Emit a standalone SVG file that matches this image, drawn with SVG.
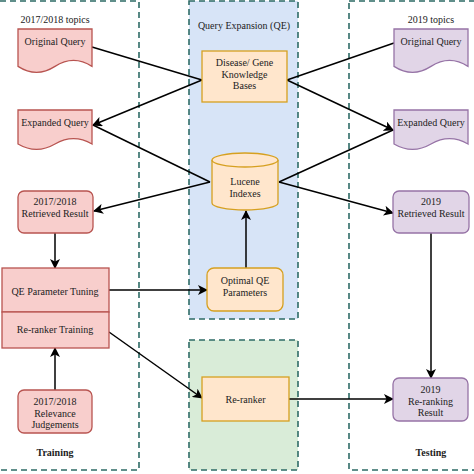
<svg xmlns="http://www.w3.org/2000/svg" width="474" height="474" viewBox="0 0 474 474" font-family="'Liberation Serif', 'Times New Roman', serif">
<defs>
<marker id="arr" markerWidth="10" markerHeight="10" refX="9" refY="5" orient="auto" markerUnits="userSpaceOnUse">
<path d="M0,0 L10,5 L0,10 L2.5,5 Z" fill="#000"/>
</marker>
</defs>
<style>
text{font-family:'Liberation Serif','Times New Roman',serif;font-size:10px;fill:#222;text-anchor:middle}
.b{font-weight:bold}
.cont{stroke:#2e6b66;stroke-width:1.6;stroke-dasharray:6 4}
.pink{fill:#f8cecc;stroke:#b85450;stroke-width:1.3}
.purp{fill:#e1d5e7;stroke:#9673a6;stroke-width:1.3}
.org{fill:#ffe6cc;stroke:#d6a020;stroke-width:1.3}
.c{fill:none;stroke:#000;stroke-width:1.5}
.a{marker-end:url(#arr)}
</style>
<rect width="474" height="474" fill="#fff"/>
<g id="containers">
<rect id="training" class="cont" x="-10" y="1" width="149" height="469" fill="#fff"/>
<rect id="testing" class="cont" x="349" y="1" width="135" height="469" fill="#fff"/>
<rect id="qe" class="cont" x="189" y="1" width="109" height="318" fill="#d7e4f7"/>
<rect id="reranker-group" class="cont" x="189" y="340" width="109" height="130" fill="#d9ecd8"/>
</g>
<text x="55" y="23">2017/2018 topics</text>
<text x="431" y="23">2019 topics</text>
<text x="244" y="29">Query Expansion (QE)</text>
<text class="b" x="55" y="456">Training</text>
<text class="b" x="431" y="456">Testing</text>
<g id="connectors">
<line class="c" x1="92" y1="47" x2="202" y2="80"/>
<line class="c a" x1="202" y1="80" x2="93" y2="125"/>
<line class="c" x1="93" y1="125" x2="210" y2="182"/>
<line class="c a" x1="210" y1="182" x2="94" y2="211"/>
<line class="c" x1="394" y1="43" x2="287" y2="80"/>
<line class="c a" x1="287" y1="80" x2="393" y2="130"/>
<line class="c" x1="393" y1="130" x2="279" y2="182"/>
<line class="c a" x1="279" y1="182" x2="393" y2="213"/>
<line class="c a" x1="55" y1="233" x2="55" y2="268"/>
<line class="c a" x1="55" y1="390" x2="55" y2="348"/>
<line class="c a" x1="109" y1="290" x2="207" y2="290"/>
<line class="c a" x1="109" y1="332" x2="202" y2="398"/>
<line class="c a" x1="246" y1="268" x2="246" y2="211"/>
<line class="c a" x1="289" y1="399" x2="393" y2="399"/>
<line class="c a" x1="431" y1="233" x2="431" y2="378"/>
</g>
<g id="orig-query-left">
<path class="pink" d="M18,29 H92 V66.4 Q73.5,54.5 55,66.4 Q36.5,78.3 18,66.4 Z"/>
<text x="55" y="45">Original Query</text>
</g>
<g id="exp-query-left">
<path class="pink" d="M18,110 H92 V144 Q73.5,133.2 55,144 Q36.5,154.8 18,144 Z"/>
<text x="55" y="126">Expanded Query</text>
</g>
<g id="retrieved-left">
<rect class="pink" x="18" y="191" width="75" height="42" rx="6"/>
<text x="55" y="205">2017/2018</text>
<text x="55" y="216.5">Retrieved Result</text>
</g>
<g id="tuning-box">
<rect class="pink" x="2" y="268" width="107" height="44"/>
<text x="55" y="295">QE Parameter Tuning</text>
<rect class="pink" x="2" y="312" width="107" height="36"/>
<text x="55" y="333">Re-ranker Training</text>
</g>
<g id="relevance">
<rect class="pink" x="18" y="390" width="74" height="43" rx="6"/>
<text x="55" y="405">2017/2018</text>
<text x="55" y="416.5">Relevance</text>
<text x="55" y="428">Judgements</text>
</g>
<g id="knowledge">
<rect class="org" x="202" y="51" width="85" height="51"/>
<text x="244.5" y="66">Disease/ Gene</text>
<text x="244.5" y="77.5">Knowledge</text>
<text x="244.5" y="89">Bases</text>
</g>
<g id="lucene">
<path class="org" d="M212,160 A33,7 0 0 1 278,160 V203 A33,7 0 0 1 212,203 Z"/>
<path class="org" fill="none" d="M212,160 A33,7 0 0 0 278,160"/>
<text x="245" y="185">Lucene</text>
<text x="245" y="196.5">Indexes</text>
</g>
<g id="optimal-qe">
<rect class="org" x="207" y="268" width="76" height="43" rx="7"/>
<text x="245" y="284">Optimal QE</text>
<text x="245" y="295.5">Parameters</text>
</g>
<g id="reranker">
<rect class="org" x="202" y="377" width="87" height="44"/>
<text x="245.5" y="403">Re-ranker</text>
</g>
<g id="orig-query-right">
<path class="purp" d="M394,29 H468 V66.4 Q449.5,54.5 431,66.4 Q412.5,78.3 394,66.4 Z"/>
<text x="431" y="45">Original Query</text>
</g>
<g id="exp-query-right">
<path class="purp" d="M394,110 H468 V144 Q449.5,133.2 431,144 Q412.5,154.8 394,144 Z"/>
<text x="431" y="126">Expanded Query</text>
</g>
<g id="retrieved-right">
<rect class="purp" x="393" y="191" width="76" height="42" rx="6"/>
<text x="431" y="205">2019</text>
<text x="431" y="216.5">Retrieved Result</text>
</g>
<g id="reranking-result">
<rect class="purp" x="393" y="378" width="75" height="43" rx="6"/>
<text x="430.5" y="393">2019</text>
<text x="430.5" y="404.5">Re-ranking</text>
<text x="430.5" y="416">Result</text>
</g>
</svg>
